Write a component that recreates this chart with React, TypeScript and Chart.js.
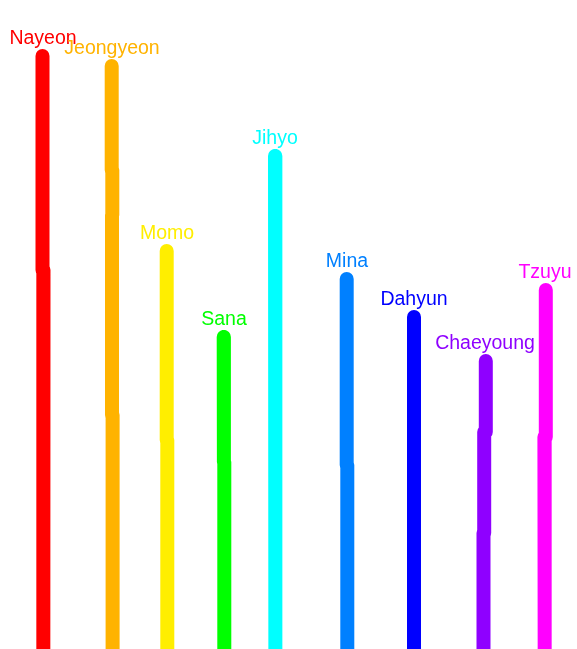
import React, { useEffect, useRef } from "react";
import { Chart, registerables } from "chart.js";

Chart.register(...registerables);

// ---- data ----
const members = ["Nayeon", "Jeongyeon", "Momo", "Sana", "Jihyo", "Mina", "Dahyun", "Chaeyoung", "Tzuyu"];
const positions = [4.3, 11.2, 16.7, 22.4, 27.5, 34.7, 41.4, 48.5, 54.5];
const totals = [59.3, 58.3, 39.8, 31.2, 49.3, 37.0, 33.2, 28.8, 35.9];
// values where each stroke has a small break (from top to bottom)
const breaks: number[][] = [
  [37.9, 26.4, 15.4, 4.9],
  [47.9, 43.4, 23.4],
  [20.9],
  [24.4, 18.7],
  [25.4, 1.9],
  [18.4],
  [],
  [21.7, 11.6],
  [21.2, 13.6],
];

// ---- style ----
const colors = ["#ff0000", "#ffb300", "#ffee00", "#00ff00", "#00ffff", "#0080ff", "#0000ff", "#8f00ff", "#ff00ff"];
// small sideways drift of each piece of a stroke (hand-drawn look)
const drift: number[][] = [
  [-0.05, 0.05, 0.03, 0.06, 0],
  [-0.03, 0.03, 0, 0.06],
  [-0.03, 0.03],
  [-0.03, 0, 0.03],
  [0, 0.03, 0.06],
  [-0.03, 0.03],
  [0],
  [0.08, -0.08, -0.15],
  [0.08, -0.06, -0.02],
];
const LABEL_FONT = "19.5px 'Liberation Sans', Arial, sans-serif";

function buildPoints(i: number) {
  const bounds = [totals[i], ...breaks[i], 0];
  const pts: { x: number; y: number }[] = [];
  for (let k = 0; k < bounds.length - 1; k++) {
    const x = positions[i] + (drift[i][k] ?? 0);
    pts.push({ x, y: bounds[k] });
    pts.push({ x, y: bounds[k + 1] });
  }
  return pts;
}

const labelPlugin = {
  id: "topLabels",
  afterDatasetsDraw(chart: any) {
    const ctx = chart.ctx;
    const xs = chart.scales.x;
    const ys = chart.scales.y;
    ctx.save();
    ctx.font = LABEL_FONT;
    ctx.textAlign = "center";
    ctx.textBaseline = "alphabetic";
    members.forEach((m, i) => {
      ctx.fillStyle = colors[i];
      const x = xs.getPixelForValue(positions[i]);
      const y = ys.getPixelForValue(totals[i]) - 12;
      ctx.fillText(m, x, y);
    });
    ctx.restore();
  },
};

export default function App() {
  const ref = useRef<HTMLCanvasElement | null>(null);
  useEffect(() => {
    document.body.style.margin = "0";
    document.body.style.overflow = "hidden";
    if (!ref.current) return;
    const chart = new Chart(ref.current, {
      type: "line",
      data: {
        datasets: members.map((m, i) => ({
          label: m,
          data: buildPoints(i),
          borderColor: colors[i],
          backgroundColor: colors[i],
          borderWidth: 14,
          borderCapStyle: "round",
          borderJoinStyle: "round",
          pointRadius: 0,
          pointHoverRadius: 0,
          tension: 0,
          fill: false,
        })),
      },
      options: {
        animation: false,
        responsive: false,
        events: [],
        layout: { padding: 0 },
        plugins: {
          legend: { display: false },
          tooltip: { enabled: false },
          title: { display: false },
        },
        scales: {
          x: { type: "linear", min: 0, max: 57.7, display: false },
          y: { type: "linear", min: 0, max: 64.9, display: false },
        },
      },
      plugins: [labelPlugin],
    } as any);
    return () => chart.destroy();
  }, []);
  return (
    <div style={{ width: 577, height: 649, background: "#ffffff" }}>
      <canvas ref={ref} width={577} height={649} style={{ display: "block" }} />
    </div>
  );
}
